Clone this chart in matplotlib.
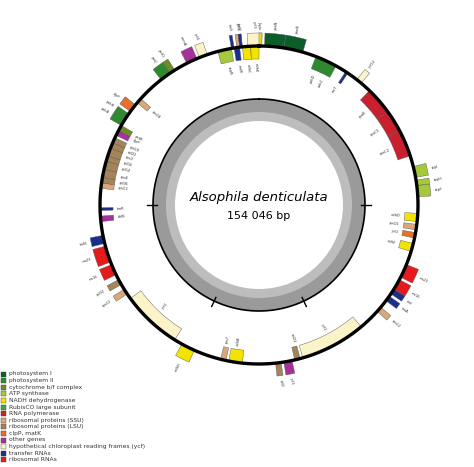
import numpy as np
import matplotlib.pyplot as plt
from matplotlib.patches import Wedge, Circle, Rectangle

GENOME = 154046
CATS = ["photosystem I", "photosystem II", "cytochrome b/f complex", "ATP synthase",
        "NADH dehydrogenase", "RubisCO large subunit", "RNA polymerase",
        "ribosomal proteins (SSU)", "ribosomal proteins (LSU)", "clpP, matK",
        "other genes", "hypothetical chloroplast reading frames (ycf)",
        "transfer RNAs", "ribosomal RNAs"]
COLORS = ["#0b5e2a", "#2d8b2d", "#6b8e23", "#a5c93a", "#f2e400", "#3aa83a",
          "#c8202e", "#d9a77a", "#a5845a", "#e8702a", "#a8309a", "#fbf4c8",
          "#1a2f8c", "#e41a1c"]

# (name, start angle deg clockwise from top, span deg, category index, outside?)
GENES = [
    ("psaA", 2, 7, 0, True), ("psaB", 9, 7, 0, True), ("ycf3", -4, 5, 11, True),
    ("rps4", -8, 2, 7, True), ("trnS", -10, 1, 12, True),
    ("psbD", 21, 4, 1, False), ("psbC", 25, 4, 1, False),
    ("trnT", 33, 1, 12, False), ("ycf12", 38, 2, 11, True),
    ("rpoB", 44, 10, 6, False), ("rpoC1", 54, 8, 6, False), ("rpoC2", 62, 10, 6, False),
    ("atpI", 76, 4, 3, True), ("atpH", 81, 2, 3, True), ("atpF", 83, 4, 3, True),
    ("ndhD", 93, 3, 4, False), ("rps15", 97, 2, 7, False), ("ycf2", 100, 2, 9, False),
    ("ndhF", 104, 3, 4, False),
    ("rrn23", 112, 5, 13, True), ("rrn16", 118, 4, 13, True), ("trnI", 122, 2, 12, True),
    ("trnA", 125, 2, 12, True), ("rps12", 130, 2, 7, True),
    ("ycf2", 140, 24, 11, False), ("rpl23", 165, 2, 8, False),
    ("ycf1", 168, 3, 10, True), ("rpl2", 172, 2, 8, True),
    ("ndhB", 186, 5, 4, False), ("rps7", 192, 2, 7, False),
    ("ndhH", 204, 5, 4, True),
    ("ycf1", 212, 22, 11, False),
    ("rps12", 236, 2, 7, True), ("rpl32", 240, 2, 8, True),
    ("rrn16", 244, 4, 13, True), ("rrn23", 249, 6, 13, True), ("trnN", 256, 3, 12, True),
    ("chlB", 264, 2, 10, False), ("trnR", 268, 1, 12, False),
    ("rps11", 276, 2, 7, False), ("rpl36", 278, 2, 8, False), ("rps8", 280, 3, 8, False),
    ("rpl14", 283, 3, 8, False), ("rpl16", 286, 2, 8, False), ("rps3", 288, 3, 8, False),
    ("rpl22", 291, 2, 8, False), ("rps19", 293, 2, 8, False), ("clpP", 296, 2, 10, False),
    ("petB", 298, 2, 2, False), ("psbB", 300, 3, 1, True), ("psbH", 303, 2, 1, True),
    ("clpP", 306, 3, 9, True), ("rps18", 310, 2, 7, False),
    ("psaJ", 322, 4, 1, True), ("petG", 326, 2, 2, True),
    ("cemA", 333, 4, 10, True), ("ycf4", 338, 3, 11, True),
    ("atpB", 345, 5, 3, False), ("trnM", 351, 2, 12, False),
    ("ndhC", 354, 3, 4, False), ("ndhK", 357, 3, 4, False),
    ("trnV", 353, 1, 12, True), ("ndhJ", 0, 1, 4, True),
]
LEGEND = CATS + ["other genes"]
LEGEND_COLORS = COLORS
LEGEND_LABELS = ["photosystem I", "photosystem II", "cytochrome b/f complex", "ATP synthase",
                 "NADH dehydrogenase", "RubisCO large subunit", "RNA polymerase",
                 "ribosomal proteins (SSU)", "ribosomal proteins (LSU)", "clpP, matK",
                 "other genes", "hypothetical chloroplast reading frames (ycf)",
                 "transfer RNAs", "ribosomal RNAs"]
IR_TICKS = [90, 155, 205, 270]

fig = plt.figure(figsize=(4.74, 4.67), dpi=100)
ax = fig.add_axes([0, 0, 1, 1])
ax.set_xlim(0, 474)
ax.set_ylim(0, 467)
ax.set_aspect("equal")
ax.axis("off")

cx, cy = 259, 262
R = 159

def pt(theta, r):
    a = np.radians(90 - theta)
    return cx + r * np.cos(a), cy + r * np.sin(a)

# inner GC circle
ax.add_patch(Circle((cx, cy), 106, color="#9a9a9a", lw=0))
ax.add_patch(Circle((cx, cy), 93, color="#bdbdbd", lw=0))
ax.add_patch(Circle((cx, cy), 84, color="white", lw=0))
th = np.linspace(0, 360, 400)
for r in (106,):
    xs, ys = pt(th, r)
    ax.plot(xs, ys, color="black", lw=1.2)
for t in IR_TICKS:
    x1, y1 = pt(t, 102)
    x2, y2 = pt(t, 112)
    ax.plot([x1, x2], [y1, y2], color="black", lw=1)

for name, start, span, cat, out in GENES:
    r_out = R + 13 if out else R
    ax.add_patch(Wedge((cx, cy), r_out, 90 - start - span, 90 - start, width=13,
                       facecolor=COLORS[cat], edgecolor="#555555", lw=0.3))
    mid = start + span / 2
    r_lab = R + 17 if out else R - 17
    x, y = pt(mid, r_lab)
    rot = 90 - mid
    ha = "left" if out else "right"
    if (mid % 360) > 180:
        rot += 180
        ha = "right" if out else "left"
    ax.text(x, y, name, fontsize=2.6, rotation=rot, rotation_mode="anchor",
            ha=ha, va="center", color="#333333")

xs, ys = pt(th, R)
ax.plot(xs, ys, color="black", lw=2.4)

ax.text(cx, cy + 8, "Alsophila denticulata", fontsize=9.5, style="italic",
        ha="center", va="center")
ax.text(cx, cy - 11, "154 046 bp", fontsize=8, ha="center", va="center")

for i, (lab, col) in enumerate(zip(LEGEND_LABELS, LEGEND_COLORS)):
    y = 467 - 374 - i * 6.6
    ax.add_patch(Rectangle((1, y - 2.5), 5, 5, facecolor=col, edgecolor="#444444", lw=0.3))
    ax.text(9, y, lab, fontsize=4.3, va="center", color="#333333")

fig.savefig("out.png", dpi=100)
